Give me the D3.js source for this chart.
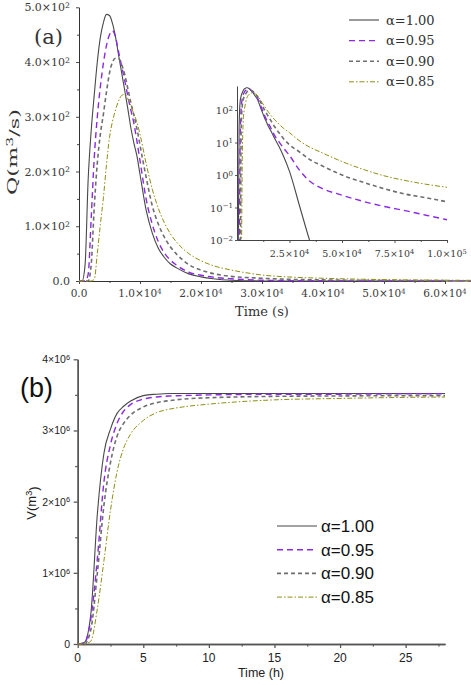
<!DOCTYPE html>
<html>
<head>
<meta charset="utf-8">
<script src="https://cdn.jsdelivr.net/npm/d3@7"></script>
<style>
body { margin: 0; background: #fff; }
svg { display: block; }
</style>
</head>
<body>
<div id="chart"></div>
<script>
// ---------------- data ----------------
// (a) discharge, time in 10^3 s, Q in m3/s
var timeKs = [0, 0.5, 1, 1.5, 2, 2.5, 3, 3.5, 4, 4.5, 5, 5.5, 6, 6.5, 7, 7.5, 8, 8.5, 9, 9.5,
	10, 11, 12, 13, 14, 15, 16, 18, 20, 22, 25, 30, 35, 40, 50, 60, 70, 80, 90, 100];
var q100 = [0, 0, 30, 185, 275, 340, 400, 445, 472, 487, 485, 470, 445, 412, 380, 348, 315, 280, 252, 228,
	195, 130, 88, 60, 43, 31, 24, 13, 7.5, 4, 1.3, 0.1, 0.008, 0.0006, 0.000004, 0, 0, 0, 0, 0];
var q095 = [0, 0, 0, 12, 115, 225, 300, 355, 398, 430, 450, 457, 445, 418, 392, 366, 338, 312, 288, 255,
	220, 150, 104, 72, 51, 38, 29, 16, 10.5, 7, 4, 1.35, 0.62, 0.4, 0.24, 0.155, 0.108, 0.08, 0.058, 0.042];
var q090 = [0, 0, 0, 0, 30, 135, 215, 268, 305, 345, 380, 400, 407, 406, 395, 377, 352, 326, 303, 278,
	248, 190, 138, 104, 80, 62, 49, 30, 20, 13.5, 8.5, 5, 2.9, 2.0, 1.0, 0.6, 0.38, 0.26, 0.2, 0.15];
var q085 = [0, 0, 0, 0, 0, 3, 50, 103, 152, 212, 262, 292, 313, 329, 339, 341, 333, 320, 305, 290,
	268, 215, 168, 133, 106, 86, 71, 50, 37, 28, 20, 11, 7, 5, 2.6, 1.5, 0.95, 0.68, 0.52, 0.42];

// (b) volume, time in h, V in 10^6 m3
var timeH = [0, 0.5, 1, 1.5, 2, 2.5, 3, 3.5, 4, 5, 6, 7, 8, 10, 12, 15, 20, 25, 28];
var v100 = [0, 0.02, 0.42, 1.83, 2.68, 3.02, 3.24, 3.34, 3.41, 3.49, 3.51, 3.52, 3.52, 3.52, 3.52, 3.52, 3.52, 3.52, 3.52];
var v095 = [0, 0.01, 0.35, 1.2, 2.28, 2.8, 3.1, 3.27, 3.36, 3.44, 3.47, 3.485, 3.49, 3.5, 3.505, 3.51, 3.51, 3.515, 3.515];
var v090 = [0, 0, 0.2, 1.0, 1.95, 2.55, 2.92, 3.1, 3.21, 3.33, 3.39, 3.42, 3.44, 3.46, 3.47, 3.48, 3.485, 3.49, 3.49];
var v085 = [0, 0, 0.04, 0.5, 1.17, 1.88, 2.42, 2.75, 2.94, 3.14, 3.25, 3.3, 3.33, 3.37, 3.4, 3.43, 3.45, 3.465, 3.47];

var alphaLabels = ['1.00', '0.95', '0.90', '0.85'];

var qTicks = [0, 100, 200, 300, 400, 500];
var tTicks = [0, 10000, 20000, 30000, 40000, 50000, 60000];
var insetTTicks = [25000, 50000, 75000, 100000];
var insetQTicks = [0.01, 0.1, 1, 10, 100];
var hTicks = [0, 5, 10, 15, 20, 25];
var vTicks = [0, 1, 2, 3, 4];

// ---------------- styles ----------------
var styles = [
	{ color: '#484848', dash: null, w: 1.1 },
	{ color: '#8a2be2', dash: '6,4', w: 1.4 },
	{ color: '#6e6e6e', dash: '4,3', w: 1.6 },
	{ color: '#8f8f14', dash: '5,2,1.5,2', w: 1 }
];

var serif = "'DejaVu Serif', 'Liberation Serif', serif",
	sans = "'Liberation Sans', Arial, sans-serif";

var svgWidth = 471,
	svgHeight = 685;

var svg = d3.select('#chart')
	.append('svg')
	.attr('width', svgWidth)
	.attr('height', svgHeight)
	.style('background', '#fff');

var qSeries = [q100, q095, q090, q085],
	vSeries = [v100, v095, v090, v085];

// superscript helper: "base" + "sup"
function supText(sel, base, sup, tail) {
	sel.append('tspan').text(base);
	sel.append('tspan').attr('dy', '-0.45em').attr('font-size', '70%').text(sup);
	if (tail) sel.append('tspan').attr('dy', '0.45em').text(tail);
}

function styleAxis(g, color, w) {
	g.select('.domain').attr('stroke', color).attr('stroke-width', w);
	g.selectAll('.tick line').attr('stroke', color).attr('stroke-width', w * 0.9);
	g.selectAll('.tick text').remove();
}

// =================================================================
// (a) discharge
// =================================================================
var xA = d3.scaleLinear().domain([0, 60000]).range([79, 445]);
var yA = d3.scaleLinear().domain([0, 500]).range([281, 7.3]);

var gA = svg.append('g');

var xAxisA = gA.append('g').attr('transform', 'translate(0,281)')
	.call(d3.axisBottom(xA).tickValues(tTicks).tickSize(3).tickSizeOuter(0));
styleAxis(xAxisA, '#333', 1);
var xMinorA = gA.append('g').attr('transform', 'translate(0,281)')
	.call(d3.axisBottom(xA).tickValues(d3.range(5000, 60000, 10000)).tickSize(2).tickSizeOuter(0));
styleAxis(xMinorA, '#333', 1);

var yAxisA = gA.append('g').attr('transform', 'translate(79,0)')
	.call(d3.axisLeft(yA).tickValues(qTicks).tickSize(3).tickSizeOuter(0));
styleAxis(yAxisA, '#333', 1);
var yMinorA = gA.append('g').attr('transform', 'translate(79,0)')
	.call(d3.axisLeft(yA).tickValues(d3.range(50, 500, 100)).tickSize(2).tickSizeOuter(0));
styleAxis(yMinorA, '#333', 1);

gA.selectAll('.qlab')
	.data(qTicks)
	.enter()
	.append('text')
	.attr('x', 70)
	.attr('y', d => yA(d) + 4)
	.attr('text-anchor', 'end')
	.attr('font-family', serif)
	.attr('font-size', 11)
	.attr('fill', '#3a3a3a')
	.each(function(d) {
		var s = d3.select(this);
		if (d === 0) s.text('0.0');
		else supText(s, (d / 100).toFixed(1) + '×10', '2');
	});

gA.selectAll('.tlab')
	.data(tTicks)
	.enter()
	.append('text')
	.attr('x', d => xA(d))
	.attr('y', 297)
	.attr('text-anchor', 'middle')
	.attr('font-family', serif)
	.attr('font-size', 10.5)
	.attr('fill', '#3a3a3a')
	.each(function(d) {
		var s = d3.select(this);
		if (d === 0) s.text('0.0');
		else supText(s, (d / 10000).toFixed(1) + '×10', '4');
	});

gA.append('text')
	.attr('x', 262)
	.attr('y', 316)
	.attr('text-anchor', 'middle')
	.attr('font-family', serif)
	.attr('font-size', 13)
	.attr('fill', '#333')
	.text('Time (s)');

var qTitle = gA.append('text')
	.attr('transform', 'translate(17,152)rotate(-90)')
	.attr('text-anchor', 'middle')
	.attr('font-family', serif)
	.attr('font-size', 13.5)
	.attr('textLength', 86)
	.attr('lengthAdjust', 'spacingAndGlyphs')
	.attr('fill', '#333');
supText(qTitle, 'Q(m', '3', '/s)');

gA.append('text')
	.attr('x', 34)
	.attr('y', 44)
	.attr('font-family', serif)
	.attr('font-size', 21)
	.attr('fill', '#333')
	.text('(a)');

var lineA = d3.line()
	.x((d, i) => xA(timeKs[i] * 1000))
	.y(d => yA(d))
	.curve(d3.curveMonotoneX);

gA.selectAll('.qline')
	.data(qSeries)
	.enter()
	.append('path')
	.attr('d', d => lineA(d))
	.attr('fill', 'none')
	.attr('stroke', (d, i) => styles[i].color)
	.attr('stroke-width', (d, i) => styles[i].w)
	.attr('stroke-dasharray', (d, i) => styles[i].dash);

// legend (a)
var legA = gA.append('g');
alphaLabels.forEach((lab, i) => {
	var y = 20 + i * 20.6;
	legA.append('line')
		.attr('x1', 349).attr('x2', 379)
		.attr('y1', y).attr('y2', y)
		.attr('stroke', styles[i].color)
		.attr('stroke-width', styles[i].w)
		.attr('stroke-dasharray', styles[i].dash);
	legA.append('text')
		.attr('x', 386)
		.attr('y', y + 4.5)
		.attr('font-family', serif)
		.attr('font-size', 13)
		.attr('fill', '#333')
		.text('α=' + lab);
});

// ---------------- inset (log) ----------------
var xI = d3.scaleLinear().domain([0, 100000]).range([237, 447]);
var yI = d3.scaleLog().domain([0.01, 550]).range([240, 86]);

var gI = svg.append('g');

gI.append('clipPath').attr('id', 'insetClip')
	.append('rect')
	.attr('x', 237).attr('y', 84)
	.attr('width', 212).attr('height', 156);

var xAxisI = gI.append('g').attr('transform', 'translate(0,240)')
	.call(d3.axisBottom(xI).tickValues(insetTTicks).tickSize(3).tickSizeOuter(0));
styleAxis(xAxisI, '#444', 1);
var xMinorI = gI.append('g').attr('transform', 'translate(0,240)')
	.call(d3.axisBottom(xI).tickValues(d3.range(12500, 100000, 25000)).tickSize(2).tickSizeOuter(0));
styleAxis(xMinorI, '#444', 1);

var yAxisI = gI.append('g').attr('transform', 'translate(237,0)')
	.call(d3.axisLeft(yI).tickValues(insetQTicks).tickSize(2).tickSizeOuter(0));
styleAxis(yAxisI, '#444', 1);

gI.selectAll('.iqlab')
	.data(insetQTicks)
	.enter()
	.append('text')
	.attr('x', 233)
	.attr('y', d => yI(d) + 4)
	.attr('text-anchor', 'end')
	.attr('font-family', serif)
	.attr('font-size', 10)
	.attr('fill', '#3a3a3a')
	.each(function(d) {
		supText(d3.select(this), '10', String(Math.round(Math.log10(d))).replace('-', '−'));
	});

gI.selectAll('.itlab')
	.data(insetTTicks)
	.enter()
	.append('text')
	.attr('x', d => xI(d))
	.attr('y', 257)
	.attr('text-anchor', 'middle')
	.attr('font-family', serif)
	.attr('font-size', 9.5)
	.attr('fill', '#3a3a3a')
	.each(function(d) {
		var e = d >= 100000 ? 5 : 4;
		supText(d3.select(this), (d / Math.pow(10, e)).toFixed(1) + '×10', String(e));
	});

var lineI = d3.line()
	.x((d, i) => xI(timeKs[i] * 1000))
	.y(d => yI(Math.max(d, 0.001)))
	.curve(d3.curveMonotoneX);

gI.append('g')
	.attr('clip-path', 'url(#insetClip)')
	.selectAll('path')
	.data(qSeries)
	.enter()
	.append('path')
	.attr('d', d => lineI(d))
	.attr('fill', 'none')
	.attr('stroke', (d, i) => styles[i].color)
	.attr('stroke-width', (d, i) => styles[i].w)
	.attr('stroke-dasharray', (d, i) => styles[i].dash);

// =================================================================
// (b) volume
// =================================================================
var xB = d3.scaleLinear().domain([0, 28]).range([77.7, 445]);
var yB = d3.scaleLinear().domain([0, 4]).range([644, 359.3]);

var gB = svg.append('g');

var xAxisB = gB.append('g').attr('transform', 'translate(0,644)')
	.call(d3.axisBottom(xB).tickValues(hTicks).tickSize(4).tickSizeOuter(0));
styleAxis(xAxisB, '#555', 1.4);
var xMinorB = gB.append('g').attr('transform', 'translate(0,644)')
	.call(d3.axisBottom(xB).tickValues(d3.range(2.5, 28, 5)).tickSize(2.5).tickSizeOuter(0));
styleAxis(xMinorB, '#555', 1.4);

var yAxisB = gB.append('g').attr('transform', 'translate(77.7,0)')
	.call(d3.axisLeft(yB).tickValues(vTicks).tickSize(4).tickSizeOuter(0));
styleAxis(yAxisB, '#555', 1.4);
var yMinorB = gB.append('g').attr('transform', 'translate(77.7,0)')
	.call(d3.axisLeft(yB).tickValues(d3.range(0.5, 4, 1)).tickSize(2.5).tickSizeOuter(0));
styleAxis(yMinorB, '#555', 1.4);

gB.selectAll('.vlab')
	.data(vTicks)
	.enter()
	.append('text')
	.attr('x', 70)
	.attr('y', d => yB(d) + 4)
	.attr('text-anchor', 'end')
	.attr('font-family', sans)
	.attr('font-size', 10.5)
	.attr('fill', '#222')
	.each(function(d) {
		var s = d3.select(this);
		if (d === 0) s.text('0');
		else supText(s, d + '×10', '6');
	});

gB.selectAll('.hlab')
	.data(hTicks)
	.enter()
	.append('text')
	.attr('x', d => xB(d))
	.attr('y', 662)
	.attr('text-anchor', 'middle')
	.attr('font-family', sans)
	.attr('font-size', 12)
	.attr('fill', '#222')
	.text(d => d);

gB.append('text')
	.attr('x', 261)
	.attr('y', 677)
	.attr('text-anchor', 'middle')
	.attr('font-family', sans)
	.attr('font-size', 12.5)
	.attr('fill', '#222')
	.text('Time (h)');

var vTitle = gB.append('text')
	.attr('transform', 'translate(36,503)rotate(-90)')
	.attr('text-anchor', 'middle')
	.attr('font-family', sans)
	.attr('font-size', 13)
	.attr('fill', '#222');
supText(vTitle, 'V(m', '3', ')');

gB.append('text')
	.attr('x', 20)
	.attr('y', 397)
	.attr('font-family', sans)
	.attr('font-size', 27)
	.attr('fill', '#111')
	.text('(b)');

var lineB = d3.line()
	.x((d, i) => xB(timeH[i]))
	.y(d => yB(d))
	.curve(d3.curveMonotoneX);

gB.selectAll('.vline')
	.data(vSeries)
	.enter()
	.append('path')
	.attr('d', d => lineB(d))
	.attr('fill', 'none')
	.attr('stroke', (d, i) => styles[i].color)
	.attr('stroke-width', (d, i) => styles[i].w)
	.attr('stroke-dasharray', (d, i) => styles[i].dash);

// legend (b)
var legB = gB.append('g');
alphaLabels.forEach((lab, i) => {
	var y = 526 + i * 23.7;
	legB.append('line')
		.attr('x1', 277).attr('x2', 317)
		.attr('y1', y).attr('y2', y)
		.attr('stroke', styles[i].color)
		.attr('stroke-width', styles[i].w)
		.attr('stroke-dasharray', styles[i].dash);
	legB.append('text')
		.attr('x', 321)
		.attr('y', y + 6)
		.attr('font-family', sans)
		.attr('font-size', 17)
		.attr('fill', '#111')
		.text('α=' + lab);
});
</script>
</body>
</html>
